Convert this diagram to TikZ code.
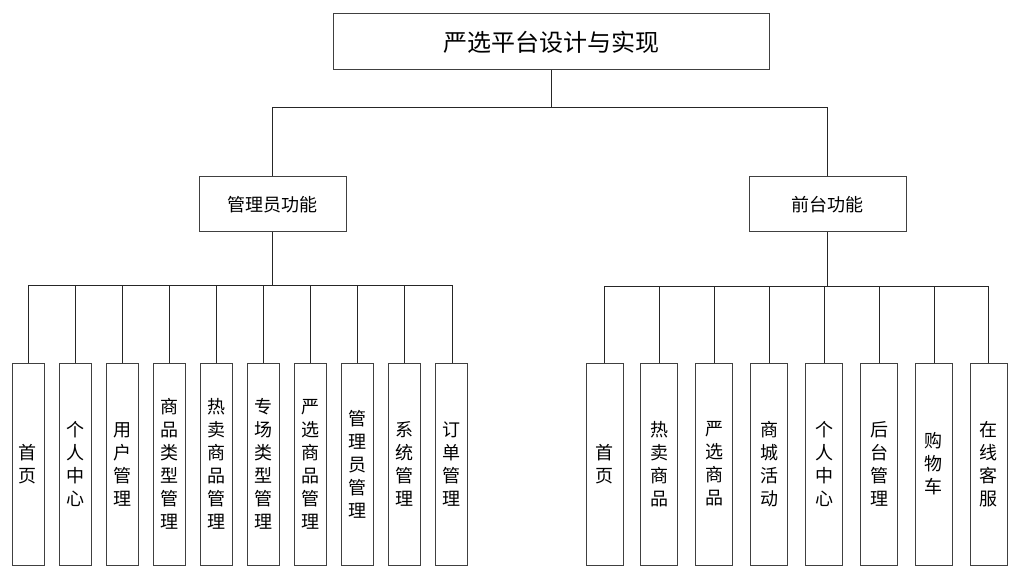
\documentclass[tikz,border=0pt]{standalone}
\usepackage{fontspec}
\newfontfamily\cjk{Noto Sans CJK SC}
\begin{document}
\begin{tikzpicture}[x=1pt,y=-1pt,
    box/.style={draw=black!75,line width=1pt,rectangle,inner sep=0pt,anchor=center},
    leaf/.style={box,minimum width=#1,minimum height=202,align=center,
        font=\cjk\fontsize{18}{23}\selectfont},
    link/.style={draw=black!85,line width=0.8pt}]
        %% Frame
        \useasboundingbox (0,0) rectangle (1023,580);
        %% Top
        \node[box,minimum width=436,minimum height=56,font=\cjk\fontsize{24}{28}\selectfont] (root) at (551,42) {严选平台设计与实现};
        \node[box,minimum width=147,minimum height=55,font=\cjk\fontsize{18}{22}\selectfont] (admin) at (272.5,204.5) {管理员功能};
        \node[box,minimum width=157,minimum height=55,font=\cjk\fontsize{18}{22}\selectfont] (front) at (827.5,204.5) {前台功能};
        \draw[link] (root.south) -- ++(0,37) -| (admin.north);
        \draw[link] (root.south) -- ++(0,37) -| (front.north);
        %% Admin leaves
        \foreach \txt [count=\i] in {首\\页,个\\人\\中\\心,用\\户\\管\\理,商\\品\\类\\型\\管\\理,热\\卖\\商\\品\\管\\理,专\\场\\类\\型\\管\\理,严\\选\\商\\品\\管\\理,管\\理\\员\\管\\理,系\\统\\管\\理,订\\单\\管\\理}{
            \node[leaf=32] (a\i) at ({28+47.1*(\i-1)},464) {\txt};
            \draw[link] (admin.south) -- ++(0,53) -| (a\i.north);
        }
        %% Front leaves
        \foreach \txt [count=\i] in {首\\页,热\\卖\\商\\品,严\\选\\商\\品,商\\城\\活\\动,个\\人\\中\\心,后\\台\\管\\理,购\\物\\车,在\\线\\客\\服}{
            \node[leaf=37] (f\i) at ({604.5+54.9*(\i-1)},464) {\txt};
            \draw[link] (front.south) -- ++(0,54) -| (f\i.north);
        }
\end{tikzpicture}
\end{document}
